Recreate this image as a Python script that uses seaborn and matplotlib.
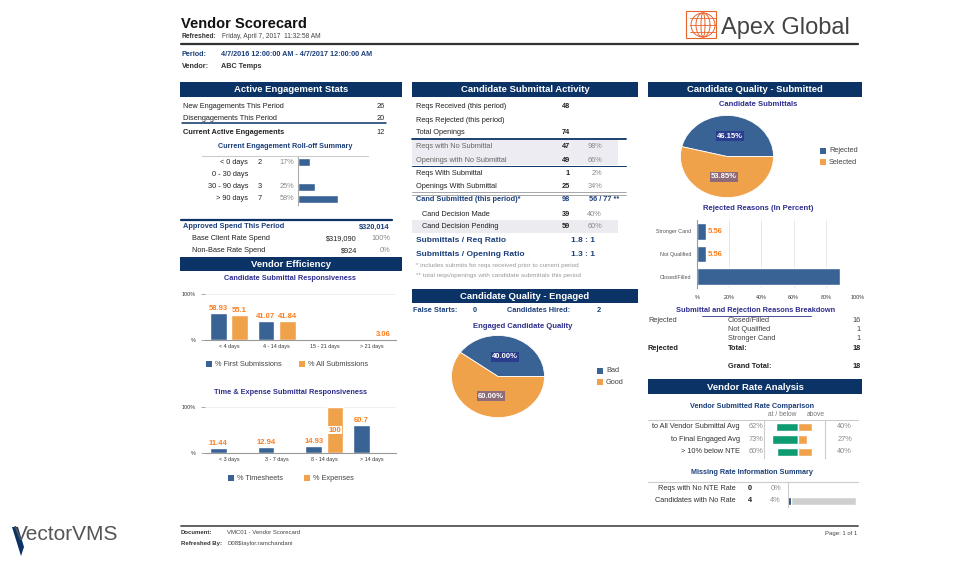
import numpy as np
import pandas as pd
import matplotlib
matplotlib.use("Agg")
import matplotlib.pyplot as plt
import seaborn as sns
from matplotlib.patches import Rectangle, Polygon
from matplotlib.lines import Line2D

refreshed_text = "Friday, April 7, 2017  11:32:58 AM"
period_text = "4/7/2016 12:00:00 AM - 4/7/2017 12:00:00 AM"
vendor_name = "ABC Temps"
document_name = "VMC01 - Vendor Scorecard"
refreshed_by = "D08$taylor.ramchandani"

engage_labels = ["New Engagements This Period", "Disengagements This Period"]
engage_values = [26, 20]
active_engagements = 12

rolloff_labels = ["< 0 days", "0 - 30 days", "30 - 90 days", "> 90 days"]
rolloff_counts = ["2", "", "3", "7"]
rolloff_pct = [17, 0, 25, 58]

approved_spend = "$320,014"
spend_labels = ["Base Client Rate Spend", "Non-Base Rate Spend"]
spend_values = ["$319,090", "$924"]
spend_pct = ["100%", "0%"]

resp_cats = ["< 4 days", "4 - 14 days", "15 - 21 days", "> 21 days"]
resp_first = [58.93, 41.07, 0, 0]
resp_all = [55.1, 41.84, 0, 3.06]

te_cats = ["< 3 days", "3 - 7 days", "8 - 14 days", "> 14 days"]
te_timesheets = [11.44, 12.94, 14.93, 60.7]
te_expenses = [0, 0, 100, 0]

activity_labels = ["Reqs Received (this period)", "Reqs Rejected (this period)", "Total Openings",
                   "Reqs with No Submittal", "Openings with No Submittal", "Reqs With Submittal",
                   "Openings With Submittal", "Cand Submitted (this period)*", "Cand Decision Made",
                   "Cand Decision Pending"]
activity_values = ["48", "", "74", "47", "49", "1", "25", "98", "39", "59"]
activity_pct = ["", "", "", "98%", "66%", "2%", "34%", "56 / 77 **", "40%", "60%"]

ratio_labels = ["Submittals / Req Ratio", "Submittals / Opening Ratio"]
ratio_values = ["1.8 : 1", "1.3 : 1"]

false_starts = 0
candidates_hired = 2
engaged_labels = ["Bad", "Good"]
engaged_pct = [40.0, 60.0]

submitted_labels = ["Rejected", "Selected"]
submitted_pct = [46.15, 53.85]

reject_reasons = ["Stronger Cand", "Not Qualified", "Closed/Filled"]
reject_pct = [5.56, 5.56, 88.89]

breakdown_reasons = ["Closed/Filled", "Not Qualified", "Stronger Cand"]
breakdown_counts = [16, 1, 1]
rejected_total = 18
grand_total = 18

rate_labels = ["to All Vendor Submittal Avg", "to Final Engaged Avg", "> 10% below NTE"]
rate_below = [62, 73, 60]
rate_above = [40, 27, 40]

missing_labels = ["Reqs with No NTE Rate", "Candidates with No Rate"]
missing_counts = [0, 4]
missing_pct = [0, 4]
missing_track = [0, 100]

# ---- colours ----
NAVY = "#0b3366"
TNAVY = "#1b3f7a"
CTITLE = "#2e2e8f"
BLUE = "#3a6395"
ORANGE = "#f0a24b"
LORANGE = "#fb7d1e"
GREEN = "#0f9b72"
GRAY = "#8a8a8a"
DARK = "#222222"

sns.set_theme(style="white")
plt.rcParams["font.family"] = ["Liberation Sans", "DejaVu Sans"]

W, H = 960, 572
fig = plt.figure(figsize=(W / 100, H / 100), dpi=100)
fig.patch.set_facecolor("white")


def X(x):
    return x / W


def Y(y):
    return 1 - y / H


def txt(x, y, s, size=5.3, color=DARK, ha="left", weight="normal", **kw):
    return fig.text(X(x), Y(y), s, fontsize=size, color=color, ha=ha, va="center",
                    fontweight=weight, **kw)


def hline(x0, x1, y, color=NAVY, lw=1.0):
    fig.add_artist(Line2D([X(x0), X(x1)], [Y(y), Y(y)], color=color, lw=lw))


def box(x0, y0, x1, y1, color, ec="none"):
    fig.add_artist(Rectangle((X(x0), Y(y1)), (x1 - x0) / W, (y1 - y0) / H, facecolor=color,
                             edgecolor=ec, lw=0.8, transform=fig.transFigure, zorder=0))


def header(x0, x1, y0, y1, title):
    box(x0, y0, x1, y1, NAVY)
    txt((x0 + x1) / 2, (y0 + y1) / 2 + 0.5, title, size=6.8, color="white", ha="center", weight="bold")


def axes_px(x0, y0, x1, y1):
    return fig.add_axes([X(x0), Y(y1), (x1 - x0) / W, (y1 - y0) / H])


def legend_items(items, y):
    for x, col, lab in items:
        box(x - 3, y - 3, x + 3, y + 3, col)
        txt(x + 6, y, lab, size=5.3, color="#444")


# ---- page header ----
txt(181, 24, "Vendor Scorecard", size=10.5, weight="bold", color="#111")
txt(181, 37, "Refreshed:", size=4.8, weight="bold", color="#333")
txt(222, 37, refreshed_text, size=4.8, color="#444")
hline(181, 858, 44, "#333", 1.6)
txt(182, 55, "Period:", size=5.2, weight="bold", color=TNAVY)
txt(221, 55, period_text, size=5.2, weight="bold", color=TNAVY)
txt(182, 67, "Vendor:", size=5.2, weight="bold", color="#333")
txt(221, 67, vendor_name, size=5.2, weight="bold", color="#333")

# Apex Global logo
box(686, 11, 716, 38, "none", ec="#e8632b")
t = np.linspace(0, 2 * np.pi, 80)
for rx in [12, 7, 2]:
    xs = 703 + rx * np.cos(t)
    ys = 25 + 12 * np.sin(t)
    keep = (xs > 686) & (xs < 716)
    fig.add_artist(Line2D(X(xs[keep]), Y(ys[keep]), color="#e8632b", lw=0.7))
for yy in [18, 25, 32]:
    hline(690, 716, yy, "#e8632b", 0.6)
txt(721, 28, "Apex Global", size=17, color="#444")

# ---- left column: Active Engagement Stats ----
header(180, 402, 82, 97, "Active Engagement Stats")
for i, (lab, v) in enumerate(zip(engage_labels, engage_values)):
    y = 106 + 12 * i
    txt(183, y, lab)
    txt(385, y, str(v), ha="right")
hline(182, 386, 123, NAVY, 1.1)
txt(183, 133, "Current Active Engagements", weight="bold")
txt(385, 133, str(active_engagements), ha="right")
txt(285, 147, "Current Engagement Roll-off Summary", size=5.2, weight="bold", color=TNAVY, ha="center")
hline(202, 368, 156, "#cccccc", 0.8)
for i, lab in enumerate(rolloff_labels):
    y = 162 + 12.3 * i
    txt(248, y, lab, ha="right")
    txt(258, y, rolloff_counts[i])
    if rolloff_pct[i] > 0:
        txt(294, y, f"{rolloff_pct[i]}%", ha="right", color=GRAY)

ax = axes_px(298, 156, 367, 205)
sns.barplot(x=rolloff_pct, y=rolloff_labels, orient="h", color=BLUE, saturation=1, width=0.67, ax=ax)
ax.set_xlim(0, 100)
ax.set_xticks([])
ax.set_yticks([])
ax.set_xlabel("")
ax.set_ylabel("")
for s in ["top", "right", "bottom"]:
    ax.spines[s].set_visible(False)
ax.spines["left"].set_color("#aaaaaa")
ax.spines["left"].set_linewidth(0.8)
ax.patch.set_alpha(0)

hline(181, 392, 220, NAVY, 1.6)
txt(183, 227, "Approved Spend This Period", weight="bold", color=TNAVY)
txt(390, 227, approved_spend, weight="bold", color=TNAVY, ha="right")
for i, lab in enumerate(spend_labels):
    y = 239 + 12 * i
    txt(192, y, lab)
    txt(357, y, spend_values[i], ha="right")
    txt(390, y, spend_pct[i], ha="right", color=GRAY)

# ---- left column: Vendor Efficiency ----
header(180, 402, 257, 271, "Vendor Efficiency")


def grouped(ax, cats, a, b, names):
    df = pd.DataFrame({"cat": cats * 2, "val": a + b,
                       "series": [names[0]] * len(cats) + [names[1]] * len(cats)})
    sns.barplot(data=df, x="cat", y="val", hue="series", palette=[BLUE, ORANGE], saturation=1,
                width=0.9, gap=0.22, ax=ax, legend=False)
    ax.set_ylim(0, 100)
    ax.set_xlim(-0.5, len(cats) - 0.5)
    ax.set_xlabel("")
    ax.set_ylabel("")
    ax.set_yticks([0, 100])
    ax.set_yticklabels(["%", "100%"])
    ax.set_xticks(range(len(cats)))
    ax.set_xticklabels(cats)
    ax.set_xticks([i - 0.5 for i in range(len(cats) + 1)], minor=True)
    ax.tick_params(axis="x", which="major", length=0, labelsize=3.9, labelcolor="#333", pad=3)
    ax.tick_params(axis="x", which="minor", length=2.5, color="#999999", width=0.6)
    ax.tick_params(axis="y", length=3, color="#999999", width=0.6, labelsize=3.9, labelcolor="#333", pad=4)
    ax.yaxis.set_ticks_position("left")
    for s in ["top", "right", "left"]:
        ax.spines[s].set_visible(False)
    ax.spines["bottom"].set_color("#999999")
    ax.spines["bottom"].set_linewidth(0.8)
    ax.axhline(100, color="#eeeeee", lw=0.6, zorder=0)
    ax.patch.set_alpha(0)
    for cont, vals in zip(ax.containers, [a, b]):
        top = [f"{v:g}" if 0 < v < 90 else "" for v in vals]
        inside = [f"{v:g}" if v >= 90 else "" for v in vals]
        ax.bar_label(cont, labels=top, padding=0.5, color=LORANGE, fontsize=5.5, fontweight="bold")
        if any(inside):
            ax.bar_label(cont, labels=inside, label_type="center", color=LORANGE, fontsize=5.5,
                         fontweight="bold", bbox=dict(facecolor="white", edgecolor="none", pad=0.4))


txt(290, 279, "Candidate Submittal Responsiveness", size=5.3, weight="bold", color=CTITLE, ha="center")
ax = axes_px(205, 294, 396, 340)
grouped(ax, resp_cats, resp_first, resp_all, ["% First Submissions", "% All Submissions"])
legend_items([(209, BLUE, "% First Submissions"), (302, ORANGE, "% All Submissions")], 364)

txt(290, 393, "Time & Expense Submittal Responsiveness", size=5.3, weight="bold", color=CTITLE, ha="center")
ax = axes_px(205, 407, 396, 453)
grouped(ax, te_cats, te_timesheets, te_expenses, ["% Timesheets", "% Expenses"])
legend_items([(231, BLUE, "% Timesheets"), (307, ORANGE, "% Expenses")], 478)

# ---- middle column: Candidate Submittal Activity ----
header(412, 638, 82, 97, "Candidate Submittal Activity")
box(412, 140, 618, 165, "#ececf2")
box(412, 220, 618, 233, "#ececf0")
hline(412, 626, 139, NAVY, 1.3)
hline(412, 626, 166, NAVY, 0.7)
hline(412, 626, 192, "#999999", 0.6)
hline(412, 626, 194.5, "#999999", 0.6)
rows_y = [106, 120, 133, 147, 160, 173, 187, 200, 214, 227]
for i, lab in enumerate(activity_labels):
    y = rows_y[i]
    x = 422 if i >= 8 else 416
    col = "#666666" if i in (3, 4) else DARK
    w = "normal"
    if i == 7:
        col, w = TNAVY, "bold"
    txt(x, y, lab, color=col, weight=w)
    txt(570, y, activity_values[i], ha="right", weight="bold", color=TNAVY if i == 7 else DARK)
    if i == 7:
        txt(589, y, activity_pct[i], weight="bold", color=TNAVY)
    elif activity_pct[i]:
        txt(602, y, activity_pct[i], ha="right", color=GRAY)
for i, lab in enumerate(ratio_labels):
    y = 241 + 13.5 * i
    txt(416, y, lab, size=6.0, weight="bold", color=TNAVY)
    txt(571, y, ratio_values[i], size=6.0, weight="bold", color=TNAVY)
txt(416, 265, "* includes submits for reqs received prior to current period", size=4.6, color="#999999")
txt(416, 275, "** total reqs/openings with candidate submittals this period", size=4.6, color="#999999")


def pie(cx, cy, rx, ry, vals, labels, leg_x, leg_y):
    ax = axes_px(cx - rx, cy - ry, cx + rx, cy + ry)
    wedges, texts, autos = ax.pie(vals, colors=[BLUE, ORANGE], startangle=0, counterclock=True,
                                  autopct="%.2f%%", pctdistance=0.5,
                                  wedgeprops=dict(edgecolor="white", linewidth=0.6),
                                  textprops=dict(color="white", fontsize=5.5, fontweight="bold"))
    ax.set_aspect("auto")
    ax.set_xlim(-1.01, 1.01)
    ax.set_ylim(-1.01, 1.01)
    autos[0].set_bbox(dict(facecolor="#2b3d8f", edgecolor="none", pad=0.8))
    autos[1].set_bbox(dict(facecolor="#8e6b78", edgecolor="none", pad=0.8))
    legend_items([(leg_x, BLUE, labels[0])], leg_y)
    legend_items([(leg_x, ORANGE, labels[1])], leg_y + 11)


# ---- middle column: Candidate Quality - Engaged ----
header(412, 638, 289, 303, "Candidate Quality - Engaged")
txt(413, 310, "False Starts:", weight="bold", color=TNAVY)
txt(473, 310, str(false_starts), weight="bold", color=TNAVY)
txt(507, 310, "Candidates Hired:", weight="bold", color=TNAVY)
txt(597, 310, str(candidates_hired), weight="bold", color=TNAVY)
txt(523, 326, "Engaged Candidate Quality", size=5.5, weight="bold", color=CTITLE, ha="center")
pie(498, 376.5, 47, 41.5, engaged_pct, engaged_labels, 600, 371)

# ---- right column: Candidate Quality - Submitted ----
header(648, 862, 82, 97, "Candidate Quality - Submitted")
txt(758, 104, "Candidate Submittals", size=5.5, weight="bold", color=CTITLE, ha="center")
pie(727, 156.5, 47, 41.5, submitted_pct, submitted_labels, 823, 151)

txt(758, 209, "Rejected Reasons (In Percent)", size=5.5, weight="bold", color=CTITLE, ha="center")
ax = axes_px(697, 220, 858, 288)
sns.barplot(x=reject_pct, y=reject_reasons, orient="h", color=BLUE, saturation=1, width=0.73, ax=ax)
ax.set_xlim(0, 100)
ax.set_xlabel("")
ax.set_ylabel("")
ax.set_xticks(range(0, 101, 20))
ax.set_xticklabels(["%", "20%", "40%", "60%", "80%", "100%"])
ax.grid(axis="x", color="#e4e4e4", lw=0.6)
ax.set_axisbelow(True)
ax.tick_params(axis="x", length=0, labelsize=3.9, labelcolor="#333", pad=5)
ax.tick_params(axis="y", length=0, labelsize=3.9, labelcolor="#555", pad=4)
for s in ["top", "right", "bottom"]:
    ax.spines[s].set_visible(False)
ax.spines["left"].set_color("#999999")
ax.spines["left"].set_linewidth(0.8)
ax.bar_label(ax.containers[0], labels=[f"{v:g}" if v < 50 else "" for v in reject_pct], padding=1,
             color=LORANGE, fontsize=5.5, fontweight="bold")

txt(756, 311, "Submittal and Rejection Reasons Breakdown", size=5.3, weight="bold", color=CTITLE, ha="center")
hline(702, 811, 315.5, CTITLE, 0.6)
txt(648, 320, "Rejected", color="#444")
for i, lab in enumerate(breakdown_reasons):
    y = 320 + 9.2 * i
    txt(728, y, lab, color="#444")
    txt(861, y, str(breakdown_counts[i]), ha="right", color="#444")
txt(648, 348, "Rejected", weight="bold")
txt(728, 348, "Total:", weight="bold")
txt(861, 348, str(rejected_total), ha="right", weight="bold")
txt(728, 367, "Grand Total:", weight="bold")
txt(861, 367, str(grand_total), ha="right", weight="bold")

# ---- right column: Vendor Rate Analysis ----
header(648, 862, 379, 394, "Vendor Rate Analysis")
txt(752, 406, "Vendor Submitted Rate Comparison", size=5.2, weight="bold", color=TNAVY, ha="center")
txt(782, 415, "at / below", size=4.8, color="#777", ha="center")
txt(816, 415, "above", size=4.8, color="#777", ha="center")
hline(648, 858, 420, "#cccccc", 0.8)
for i, lab in enumerate(rate_labels):
    y = 427 + 12.3 * i
    txt(740, y, lab, ha="right", color="#333")
    txt(763, y, f"{rate_below[i]}%", ha="right", color=GRAY)
    txt(852, y, f"{rate_above[i]}%", ha="right", color=GRAY)
ax = axes_px(764, 421, 825, 458)
sns.barplot(x=[-v for v in rate_below], y=rate_labels, orient="h", color=GREEN, saturation=1, width=0.66, ax=ax)
sns.barplot(x=rate_above, y=rate_labels, orient="h", color=ORANGE, saturation=1, width=0.66, ax=ax)
ax.set_xlim(-97, 77)
ax.set_xticks([])
ax.set_yticks([])
ax.set_xlabel("")
ax.set_ylabel("")
for s in ["top", "bottom"]:
    ax.spines[s].set_visible(False)
for s in ["left", "right"]:
    ax.spines[s].set_color("#cccccc")
    ax.spines[s].set_linewidth(0.8)
ax.patch.set_alpha(0)

txt(752, 473, "Missing Rate Information Summary", size=5.2, weight="bold", color=TNAVY, ha="center")
hline(648, 858, 482, "#cccccc", 0.8)
for i, lab in enumerate(missing_labels):
    y = 488.5 + 12.5 * i
    txt(736, y, lab, ha="right", color="#333")
    txt(748, y, str(missing_counts[i]), weight="bold")
    txt(781, y, f"{missing_pct[i]}%", ha="right", color=GRAY)
ax = axes_px(788, 482, 856, 507)
sns.barplot(x=missing_track, y=missing_labels, orient="h", color="#cfcfcf", saturation=1, width=0.62, ax=ax)
sns.barplot(x=missing_pct, y=missing_labels, orient="h", color=NAVY, saturation=1, width=0.62, ax=ax)
ax.set_xlim(0, 100)
ax.set_xticks([])
ax.set_yticks([])
ax.set_xlabel("")
ax.set_ylabel("")
for s in ["top", "right", "bottom"]:
    ax.spines[s].set_visible(False)
ax.spines["left"].set_color("#cccccc")
ax.spines["left"].set_linewidth(0.8)
ax.patch.set_alpha(0)

# ---- footer ----
hline(181, 858, 526, "#555555", 1.3)
txt(181, 533, "Document:", size=4.3, weight="bold", color="#333")
txt(227, 533, document_name, size=4.3, color="#444")
txt(181, 543, "Refreshed By:", size=4.3, weight="bold", color="#333")
txt(227, 543, refreshed_by, size=4.3, color="#444")
txt(857, 533, "Page: 1 of 1", size=4.3, color="#444", ha="right")

# VectorVMS logo
fig.add_artist(Polygon([(X(12), Y(527)), (X(18), Y(527)), (X(24), Y(547)), (X(21), Y(556))],
                       closed=True, facecolor=NAVY, edgecolor="none", transform=fig.transFigure))
txt(14, 535, "VectorVMS", size=15, color="#555555")

fig.savefig("out.png", dpi=100)
